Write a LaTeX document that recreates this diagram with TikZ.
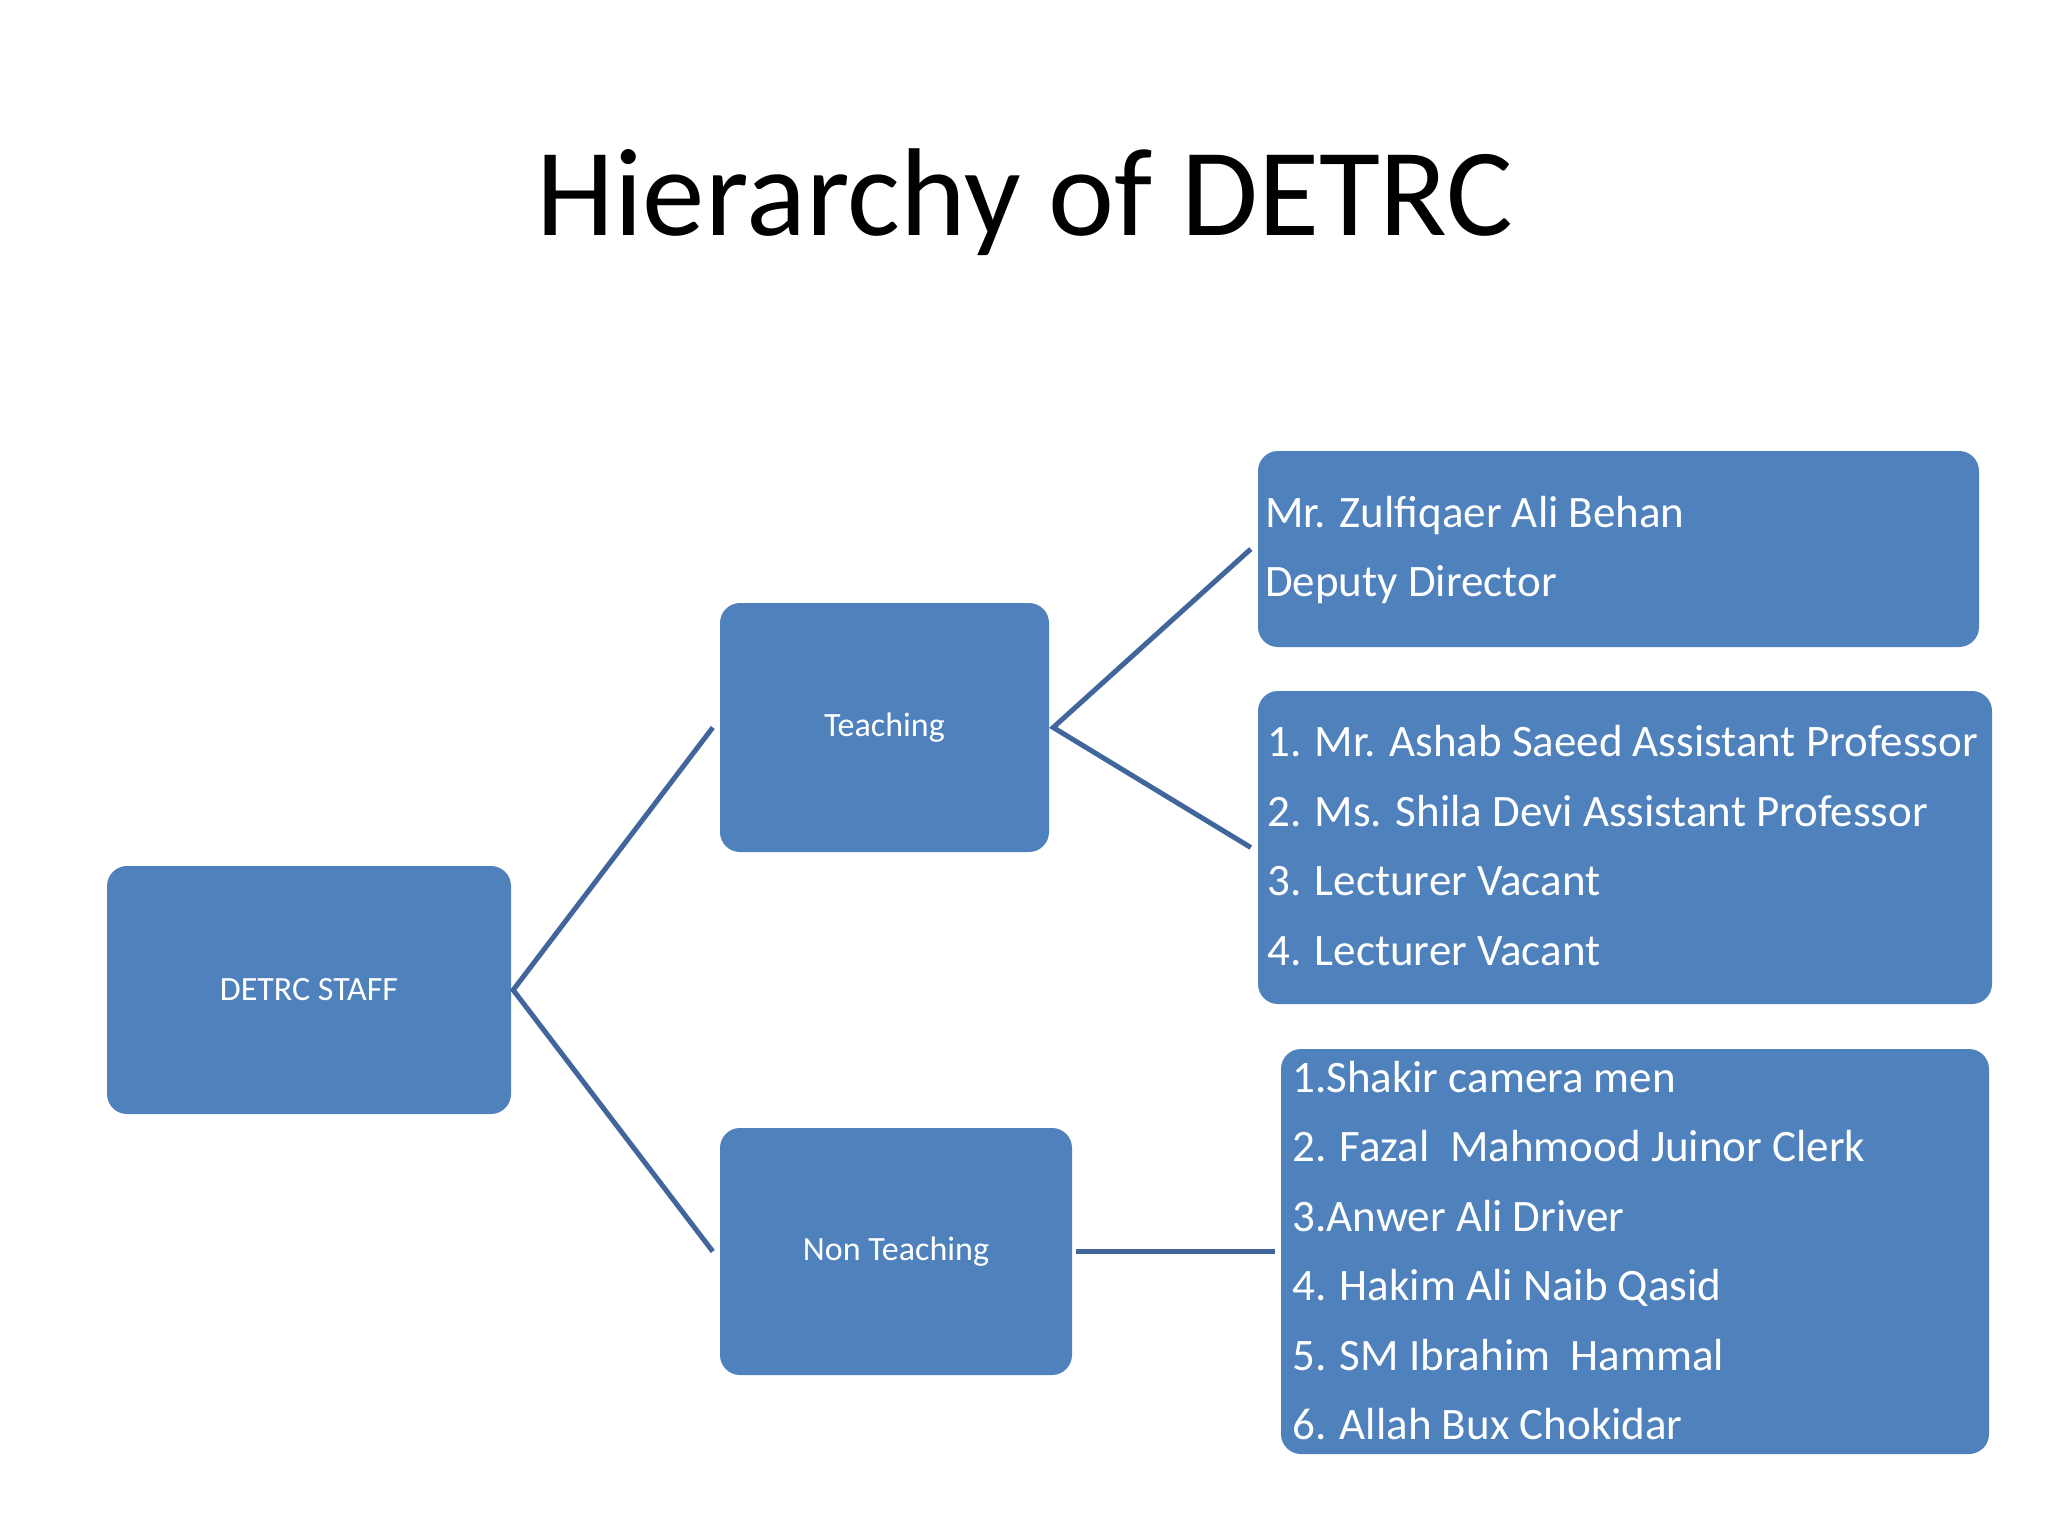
\documentclass[tikz,border=0pt]{standalone}
\usepackage{fontspec}
\setmainfont{Carlito}
\definecolor{boxblue}{HTML}{4F81BD}
\definecolor{lineblue}{HTML}{41669B}
\begin{document}
\begin{tikzpicture}[x=1pt,y=-1pt,
  box/.style={fill=boxblue,draw=none,rounded corners=20pt,inner sep=0pt},
  small/.style={text=white,font=\fontsize{34}{40}\selectfont,inner sep=0pt},
  item/.style={text=white,font=\fontsize{45}{54}\selectfont,inner sep=0pt,anchor=base west},
  conn/.style={draw=lineblue,line width=5pt}]
\useasboundingbox[fill=white] (0,0) rectangle (2048,1536);
\node[font=\fontsize{125}{150}\selectfont,anchor=base,inner sep=0pt] (title) at (1025,235) {Hierarchy of DETRC};
% boxes
\node[box,minimum width=404pt,minimum height=248pt] (staff) at (309,990) {};
\node[small] (staffl) at (staff.center) {DETRC STAFF};
\node[box,minimum width=329pt,minimum height=249pt] (teach) at (884.5,727.5) {};
\node[small] (teachl) at (teach.center) {Teaching};
\node[box,minimum width=352pt,minimum height=247pt] (nont) at (896,1251.5) {};
\node[small] (nontl) at (nont.center) {Non Teaching};
\node[box,minimum width=721pt,minimum height=196pt] (a) at (1618.5,549) {};
\node[box,minimum width=734pt,minimum height=313pt] (b) at (1625,847.5) {};
\node[box,minimum width=708pt,minimum height=405pt] (c) at (1635,1251.5) {};
% texts
\node[item] (a1) at (1265,527) {Mr. Zulfiqaer Ali Behan};
\node[item] (a2) at (1265,596) {Deputy Director};
\node[item] (b1) at (1267,756) {1. Mr. Ashab Saeed Assistant Professor};
\node[item] (b2) at (1267,826) {2. Ms. Shila Devi Assistant Professor};
\node[item] (b3) at (1267,895) {3. Lecturer Vacant};
\node[item] (b4) at (1267,965) {4. Lecturer Vacant};
\node[item] (c1) at (1292,1092) {1.Shakir camera men};
\node[item] (c2) at (1292,1161) {2. Fazal\ \ Mahmood Juinor Clerk};
\node[item] (c3) at (1292,1231) {3.Anwer Ali Driver};
\node[item] (c4) at (1292,1300) {4. Hakim Ali Naib Qasid};
\node[item] (c5) at (1292,1370) {5. SM Ibrahim\ \ Hammal};
\node[item] (c6) at (1292,1439) {6. Allah Bux Chokidar};
% connectors
\draw[conn] ([xshift=-7pt]teach.west) -- ([xshift=2pt]staff.east) -- ([xshift=-7pt]nont.west);
\draw[conn] ([xshift=-7pt]a.west) -- ([xshift=4pt]teach.east) -- ([xshift=-7pt]b.west);
\draw[conn] ([xshift=4pt]nont.east) -- ([xshift=-6pt]c.west);
\end{tikzpicture}
\end{document}
